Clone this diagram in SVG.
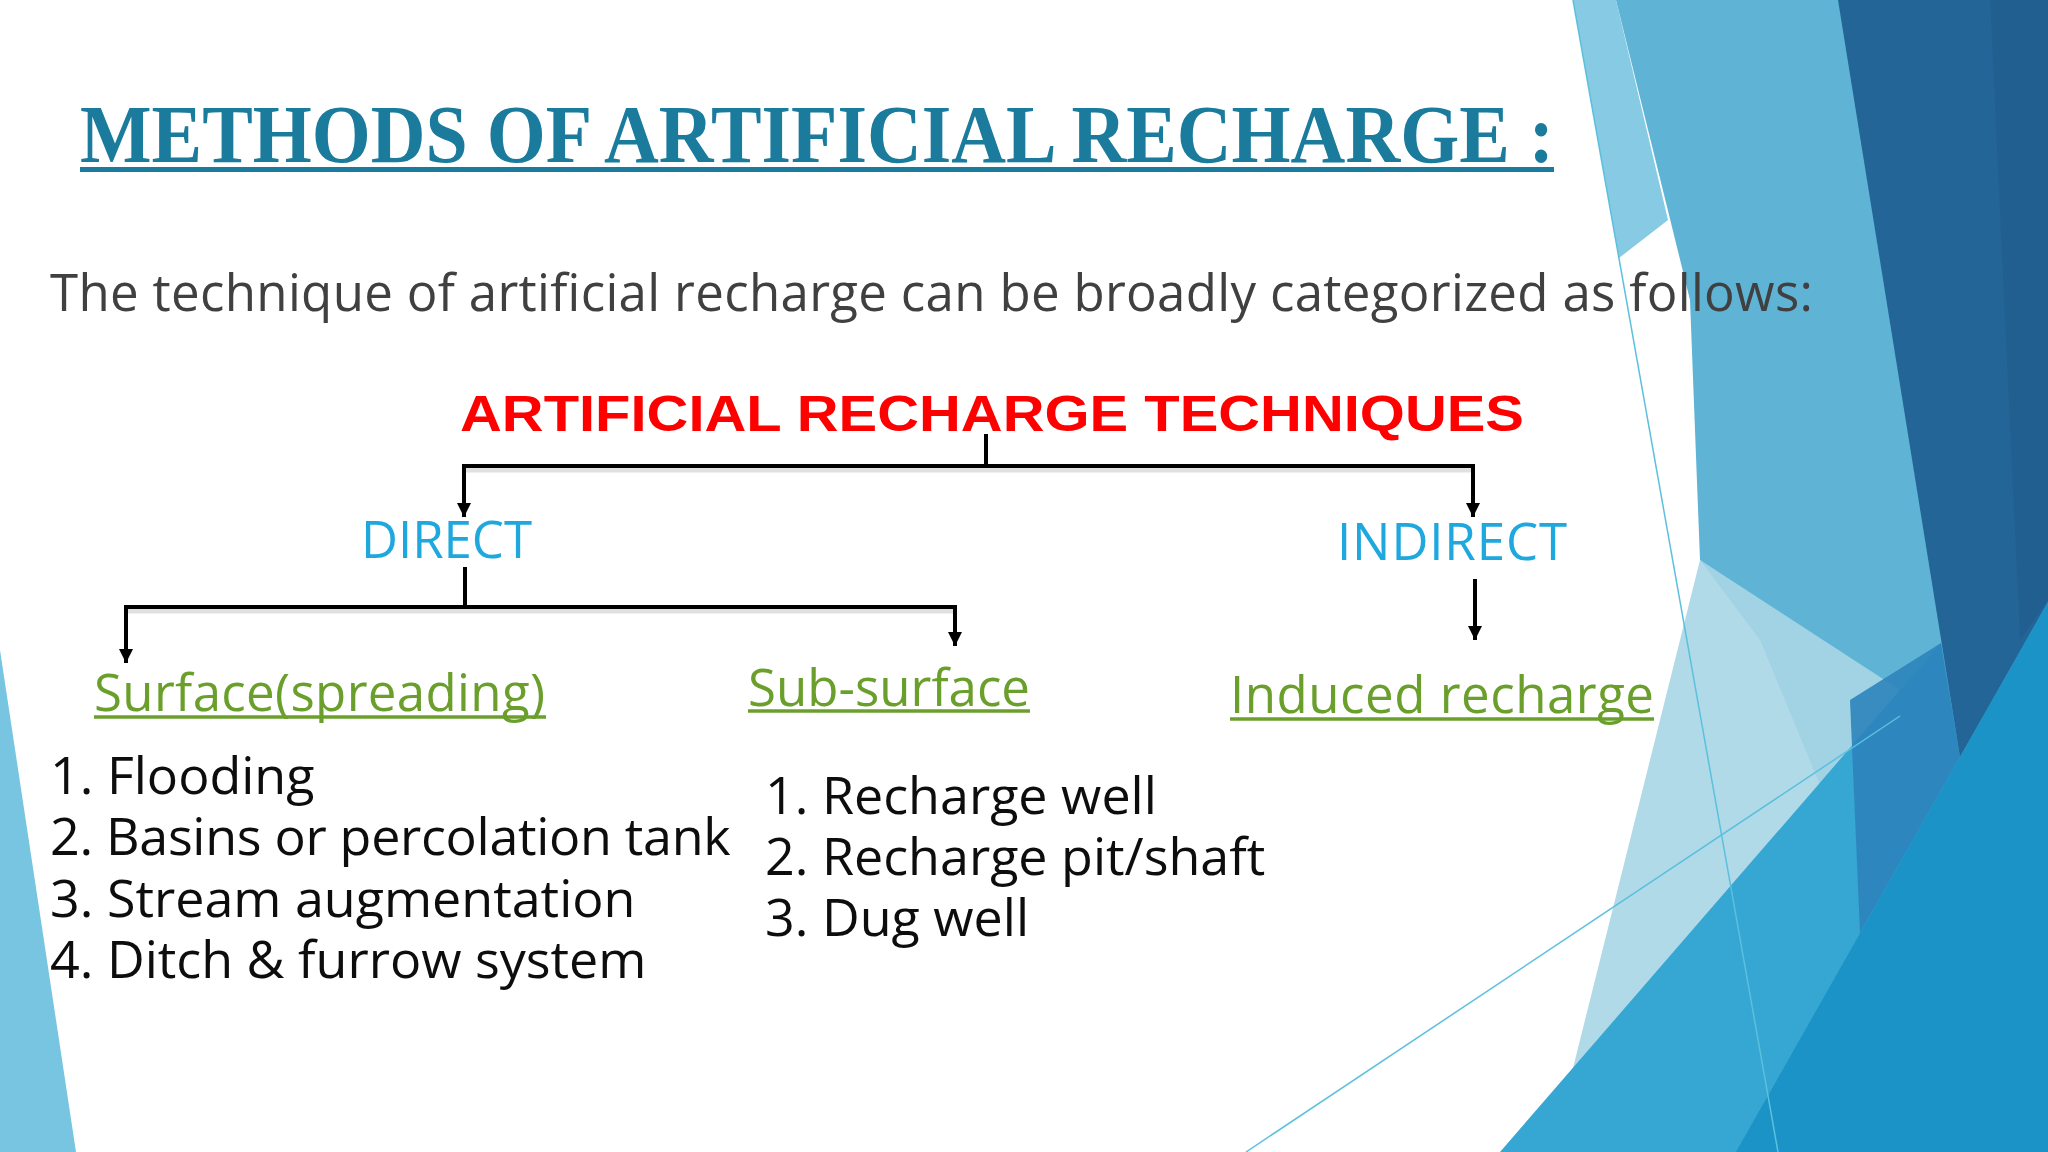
<svg xmlns="http://www.w3.org/2000/svg" width="2048" height="1152" viewBox="0 0 2048 1152">
  <defs>
    <style>
      .body { font-family: "Open Sans", "Noto Sans", "DejaVu Sans", sans-serif; }
      .item { font-family: "Open Sans", "Noto Sans", sans-serif; font-size: 52px; fill: #0d0d0d; }
      .branch { font-family: "Open Sans", "Noto Sans", sans-serif; font-size: 51px; fill: #1FA8DE; }
      .leaf { font-family: "Open Sans", "Noto Sans", sans-serif; font-size: 51px; fill: #6B9F2C; }
      .ul { stroke: #6B9F2C; stroke-width: 3.5; }
      .conn { fill: none; stroke: #000; stroke-width: 4; }
      .shadow { fill: none; stroke: #000; stroke-opacity: 0.12; stroke-width: 5; }
    </style>
    <marker id="arrow" viewBox="0 0 10 10" refX="10" refY="5" markerWidth="14" markerHeight="14" markerUnits="userSpaceOnUse" orient="auto">
      <path d="M0,0 L10,5 L0,10 z" fill="#000"/>
    </marker>
  </defs>

  <rect width="2048" height="1152" fill="#ffffff"/>

  <g id="background">
    <polygon points="0,650 76,1152 0,1152" fill="#78C5E2"/>
    <polygon points="1573,0 1616,0 1668,220 1619,258" fill="#86CAE4"/>
    <polygon points="1616,0 2048,0 2048,720 1880,930 1760,640 1700,560 1690,300" fill="#5FB4D6"/>
    <polygon points="1700,560 1900,690 1572,1072" fill="#A9D6E6" opacity="0.9"/>
    <polygon points="1500,1152 1941,643 1960,757 2048,602 2048,1152" fill="#36A6D3"/>
    <polygon points="1850,700 1941,643 1960,757 1860,933" fill="#2C84BB" opacity="0.9"/>
    <polygon points="1838,0 2048,0 2048,602 1960,757" fill="#246597"/>
    <polygon points="1990,0 2048,0 2048,600 2020,640" fill="#1F5C8E" opacity="0.6"/>
    <polygon points="2048,602 1736,1152 2048,1152" fill="#1B93C6"/>
    <line x1="1573" y1="0" x2="1778" y2="1152" stroke="#5BC0DE" stroke-width="1.5"/>
    <line x1="1246" y1="1152" x2="1900" y2="716" stroke="#5BC0DE" stroke-width="1.5"/>
  </g>

  <g id="title">
    <text x="80" y="162" font-family="Liberation Serif, serif" font-weight="bold" font-size="82" fill="#1A7B9C" textLength="1474" lengthAdjust="spacingAndGlyphs">METHODS OF ARTIFICIAL RECHARGE :</text>
    <rect x="80" y="167" width="1474" height="5" fill="#1A7B9C"/>
  </g>

  <g id="subtitle">
    <text class="body" x="50" y="311" font-size="51" fill="#404040" textLength="1763">The technique of artificial recharge can be broadly categorized as follows:</text>
  </g>

  <g id="connectors">
    <path class="shadow" d="M464,470 H1473"/>
    <path class="shadow" d="M126,611 H955"/>
    <path class="conn" d="M986,434 V466"/>
    <path class="conn" d="M462,466 H1475"/>
    <path class="conn" d="M464,466 V517" marker-end="url(#arrow)"/>
    <path class="conn" d="M1473,466 V517" marker-end="url(#arrow)"/>
    <path class="conn" d="M465,567 V607"/>
    <path class="conn" d="M124,607 H957"/>
    <path class="conn" d="M126,607 V663" marker-end="url(#arrow)"/>
    <path class="conn" d="M955,607 V646" marker-end="url(#arrow)"/>
    <path class="conn" d="M1475,579 V640" marker-end="url(#arrow)"/>
  </g>

  <g id="node-root">
    <text x="460" y="431" font-family="Liberation Sans, Arial, sans-serif" font-weight="bold" font-size="50" fill="#FF0000" textLength="1064" lengthAdjust="spacingAndGlyphs">ARTIFICIAL RECHARGE TECHNIQUES</text>
  </g>

  <g id="node-direct">
    <text class="branch" x="361" y="558" textLength="171">DIRECT</text>
  </g>

  <g id="node-indirect">
    <text class="branch" x="1337" y="560" textLength="230">INDIRECT</text>
  </g>

  <g id="node-surface">
    <text class="leaf" x="94" y="711" textLength="451">Surface(spreading)</text>
    <line class="ul" x1="94" y1="717" x2="546" y2="717"/>
  </g>

  <g id="node-subsurface">
    <text class="leaf" x="748" y="706" textLength="282">Sub-surface</text>
    <line class="ul" x1="748" y1="711" x2="1030" y2="711"/>
  </g>

  <g id="node-induced">
    <text class="leaf" x="1230" y="713" textLength="424">Induced recharge</text>
    <line class="ul" x1="1230" y1="719" x2="1654" y2="719"/>
  </g>

  <g id="list-surface">
    <text class="item" x="50" y="794"><tspan x="50" y="794">1. Flooding</tspan><tspan x="50" y="855" letter-spacing="-0.3">2. Basins or percolation tank</tspan><tspan x="50" y="917">3. Stream augmentation</tspan><tspan x="50" y="978">4. Ditch &amp; furrow system</tspan></text>
  </g>

  <g id="list-subsurface">
    <text class="item" x="765" y="814"><tspan x="765" y="814">1. Recharge well</tspan><tspan x="765" y="875">2. Recharge pit/shaft</tspan><tspan x="765" y="936">3. Dug well</tspan></text>
  </g>
</svg>
